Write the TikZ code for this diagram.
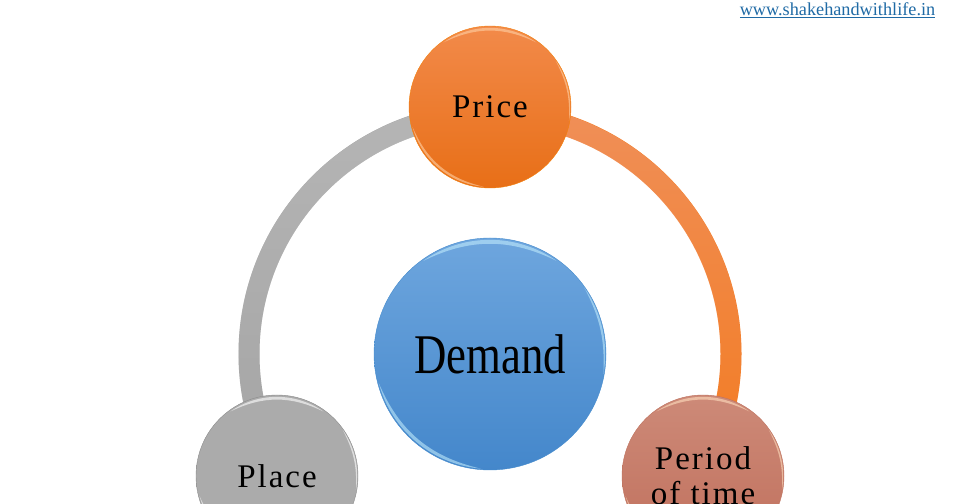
\documentclass[tikz,border=0pt]{standalone}
\usepackage{fontspec}
\setmainfont{Liberation Serif}
\newfontfamily\ballfont[LetterSpace=6]{Liberation Serif}
\newfontfamily\demandfont[FakeStretch=0.8]{Liberation Serif}
\usetikzlibrary{fadings}
\definecolor{ring_grey_low}{HTML}{A4A4A4}
\definecolor{ring_grey_high}{HTML}{B6B6B6}
\definecolor{ring_orange_low}{HTML}{F47B20}
\definecolor{ring_orange_high}{HTML}{F0905A}
\definecolor{url_blue}{HTML}{1F6AA5}
\tikzset{
  ball/.style={circle,inner sep=0pt,minimum size=162bp,align=center,text=black,font=\ballfont\fontsize{33bp}{35bp}\selectfont},
  ring_arc/.style={line width=21bp,line cap=butt},
}
\begin{document}
\begin{tikzpicture}[line join=bevel]
%%
\useasboundingbox (0bp,0bp) rectangle (960bp,504bp);
\clip (0bp,0bp) rectangle (960bp,504bp);
\node (node_price) at (490bp,397bp) [ball] {};
  \node (node_demand) at (490bp,150bp) [ball,minimum size=232bp] {};
  \node (node_place) at (277bp,28bp) [ball] {};
  \node (node_period) at (703bp,28bp) [ball] {};
%
  \draw [ring_arc,ring_orange_low] (node_price.center) -- ++(0bp,-6bp) arc [start angle=90,end angle=-30,radius=241bp] -- (node_period.center);
  \draw [ring_arc,ring_orange_high,path fading=south] (node_price.center) -- ++(0bp,-6bp) arc [start angle=90,end angle=-30,radius=241bp] -- (node_period.center);
  \draw [ring_arc,ring_grey_low] (node_price.center) -- ++(0bp,-6bp) arc [start angle=90,end angle=210,radius=241bp] -- (node_place.center);
  \draw [ring_arc,ring_grey_high,path fading=south] (node_price.center) -- ++(0bp,-6bp) arc [start angle=90,end angle=210,radius=241bp] -- (node_place.center);
%
\node at (node_price) [ball,draw=orange!80!brown,top color={rgb,255:red,242;green,138;blue,74},bottom color={rgb,255:red,232;green,111;blue,23}] {Price};
  \node at (node_demand) [ball,minimum size=232bp,font=\demandfont\fontsize{56bp}{60bp}\selectfont,draw={rgb,255:red,70;green,140;blue,205},top color={rgb,255:red,110;green,166;blue,222},bottom color={rgb,255:red,68;green,135;blue,203}] {Demand};
  \node at (node_place) [ball,draw=black!45,top color=black!33,bottom color=black!33] {Place};
  \node at (node_period) [ball,draw={rgb,255:red,190;green,115;blue,95},top color={rgb,255:red,205;green,138;blue,120},bottom color={rgb,255:red,192;green,111;blue,92}] {Period\\of time};
%
\foreach \ball/\radius/\tint in {node_price/81bp/orange!35!white,node_demand/116bp/cyan!25!white,node_place/81bp/white,node_period/81bp/orange!25!white} {
  \fill [\tint,opacity=0.6] ([yshift=-2bp]\ball.125) arc [start angle=125,end angle=55,radius=\radius] to [bend right=26] ([yshift=-2bp]\ball.125);
  \fill [\tint,opacity=0.6] ([shift={(1bp,1bp)}]\ball.195) arc [start angle=195,end angle=265,radius=\radius] to [bend left=27] ([shift={(1bp,1bp)}]\ball.195);
  \fill [\tint,opacity=0.6] ([xshift=-1bp]\ball.-10) arc [start angle=-10,end angle=35,radius=\radius] to [bend left=15] ([xshift=-1bp]\ball.-10);
}
\node (node_url) at (837.5bp,493.5bp) [inner sep=0pt,text=url_blue] {\fontsize{18.25bp}{20bp}\selectfont\underline{www.shakehandwithlife.in}};
\end{tikzpicture}
\end{document}
